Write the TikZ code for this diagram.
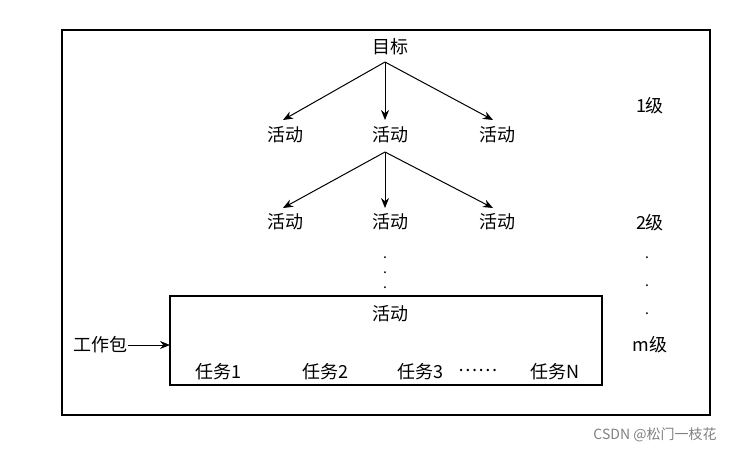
\documentclass[tikz,border=0pt]{standalone}
\usepackage{fontspec}
\setmainfont{Noto Sans CJK SC}
\usetikzlibrary{arrows.meta}
\begin{document}
\begin{tikzpicture}[x=1pt,y=-1pt,
  lbl/.style={inner sep=1pt,font=\fontsize{18}{20}\selectfont},
  dot/.style={inner sep=0pt,font=\fontsize{14}{14}\selectfont},
  arr/.style={-{Stealth[length=10pt,width=8pt]},line width=1pt},
  box/.style={draw,line width=2pt}]
\useasboundingbox (0,0) rectangle (756,453);
\draw[box] (62,30) rectangle (710,415);
\draw[box] (170,296) rectangle (602,385);
\node[lbl] (g) at (390,47) {目标};
\node[lbl] (a1) at (285,135) {活动};
\node[lbl] (a2) at (390,135) {活动};
\node[lbl] (a3) at (497,135) {活动};
\node[lbl] (b1) at (285,222) {活动};
\node[lbl] (b2) at (390,222) {活动};
\node[lbl] (b3) at (497,222) {活动};
\coordinate (gs) at (385,62);
\coordinate (as) at (385,152);
\draw[arr] (gs) -- (283,120);
\draw[arr] (gs) -- (385,120);
\draw[arr] (gs) -- (493,120);
\draw[arr] (as) -- (283,208);
\draw[arr] (as) -- (385,208);
\draw[arr] (as) -- (493,208);
\node[dot] (d1) at (385,258) {.};
\node[dot] (d2) at (385,273) {.};
\node[dot] (d3) at (385,288) {.};
\node[lbl] (l1) at (650,106) {1级};
\node[lbl] (l2) at (650,223) {2级};
\node[dot] (e1) at (647,258) {.};
\node[dot] (e2) at (647,286) {.};
\node[dot] (e3) at (647,314) {.};
\node[lbl] (lm) at (650,345) {m级};
\node[lbl] (ia) at (390,314) {活动};
\node[lbl] (t1) at (218,372) {任务1};
\node[lbl] (t2) at (325,372) {任务2};
\node[lbl] (t3) at (420,372) {任务3};
\node[lbl] (td) at (478,370) {……};
\node[lbl] (tn) at (555,372) {任务N};
\node[lbl] (wp) at (100,345) {工作包};
\draw[arr] (wp.east) -- (170,345);
\node[font=\fontsize{14}{16}\selectfont,text=gray] (wm) at (655,435) {CSDN @松门一枝花};
\end{tikzpicture}
\end{document}
